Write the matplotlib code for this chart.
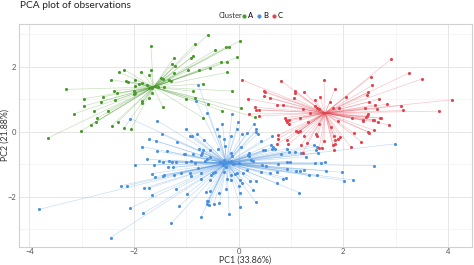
import matplotlib
matplotlib.use("Agg")
import matplotlib.pyplot as plt
from matplotlib.lines import Line2D
from matplotlib.ticker import MultipleLocator
import numpy as np

plt.rcParams['font.family'] = ['Lato', 'DejaVu Sans']

clusters = ["A", "B", "C"]
colors = {"A": "#4A9A2C", "B": "#4A92E0", "C": "#E2434F"}
title = "PCA plot of observations"
xlabel = "PC1 (33.86%)"
ylabel = "PC2 (21.88%)"

# cluster centres
centers = {"A": (-1.63, 1.37), "B": (-0.23, -0.97), "C": (1.65, 0.57)}

a_pc1 = [-3.65, -3.30, -2.96, -2.96, -3.14, -3.02, -2.83, -2.73, -2.77, -2.70, -2.63, -2.59, -2.50, -2.43,
         -2.30, -2.19, -2.37, -2.39, -2.33, -2.44, -2.29, -2.19, -2.16, -2.11, -2.06, -0.59, -0.83, -1.68,
         -0.25, -0.18, 0.02, -0.46, -0.87, -0.91, -1.24, -1.28, -1.22, -0.34, -0.22, -0.03, -1.86, -1.68,
         -1.71, -1.24, -0.96, -0.76, -0.54, -0.23, -1.98, -1.48, -1.44, -1.33, -1.30, -1.99, -1.90, -1.85,
         -1.76, -0.68, -2.00, -1.99, -2.01, -1.65, -1.43, -0.88, -0.13, -1.71, -1.01, -0.84, -1.85, -1.84,
         -1.45, -0.59, -0.31, 0.04, -0.68, -1.72, -1.60, -1.55, -1.65, 0.31]
a_pc2 = [-0.20, 1.30, 1.01, 0.79, 0.55, 0.01, 0.21, 0.30, 0.63, 0.42, 0.92, 1.07, 0.64, 0.18,
         0.31, 0.12, 0.97, 1.26, 1.18, 1.60, 1.83, 1.91, 1.56, 1.53, 0.08, 2.98, 2.70, 2.64,
         2.60, 2.61, 2.79, 2.50, 2.33, 2.27, 2.27, 2.08, 2.02, 2.15, 2.14, 2.28, 1.83, 1.89,
         1.75, 1.81, 1.88, 1.88, 1.97, 1.82, 1.58, 1.66, 1.63, 1.59, 1.56, 1.41, 1.46, 1.48,
         1.43, 1.47, 1.25, 1.20, 1.17, 1.20, 1.37, 1.24, 1.25, 1.04, 1.01, 1.04, 0.94, 0.87,
         0.75, 0.86, 0.63, 0.72, 0.42, 1.35, 1.40, 1.38, 1.33, 0.44]

b_pc1 = [-3.81, -2.45, -2.25, -2.13, -2.07, -1.98, -1.85, -1.76, -1.71, -1.59, -1.56, -1.47, -1.38, -1.62,
         -1.52, -1.44, -1.65, -1.60, -1.81, -1.72, -1.66, -1.82, -1.29, -1.14, -1.20, -0.99, -1.43, -1.24,
         -1.10, -1.35, -1.25, -1.19, -1.01, -0.91, -1.33, -1.17, -1.04, -0.87, -0.94, -0.75, -0.72, -0.70,
         -0.68, -0.66, -0.55, -0.93, -0.72, -0.72, -0.54, -0.63, -0.54, -0.58, -0.60, -0.56, -0.48, -0.37,
         -0.72, -0.18, -0.24, -0.23, -0.49, -0.36, -0.29, -0.39, -0.26, -0.15, -0.13, -0.15, -0.38, -0.28,
         -1.56, -1.01, -0.90, -0.60, -0.41, -0.13, -0.01, -0.03, 0.04, 0.20, -1.03, -1.28, -1.44, -0.92,
         -0.53, -0.45, -0.84, -0.77, -0.64, -0.60, -0.55, -0.28, -0.15, -0.14, -0.07, -0.03, 0.02, 0.01,
         0.02, 0.03, -0.61, -0.37, 0.29, 0.15, 0.06, 0.33, 0.36, 0.34, 0.64, 0.61, 0.66, 0.64,
         0.70, 0.46, 0.50, 0.43, 0.81, 0.92, 0.96, 1.08, 1.20, 1.44, 1.49, 1.47, 1.52, 2.98,
         0.23, 0.27, 0.45, 0.52, 0.75, 0.92, 0.99, 1.29, 1.46, 1.57, 1.65, 2.59, 0.43, 0.60,
         0.73, 0.92, 1.10, 1.17, 1.25, 1.35, 1.49, 1.66, 1.98, 2.02, 2.19, 0.22, 0.33, 0.73,
         0.85, 0.90, 1.16, 0.28, 0.33, 0.09, 0.15, 0.06, 0.17, 0.19, -0.20, -0.10, -0.30, -0.15,
         0.00, -0.25, -0.77, -0.82, -2.07, -0.79, -0.31]
b_pc2 = [-2.39, -3.26, -1.66, -1.66, -2.35, -1.02, -0.46, -0.85, -0.23, -0.28, -0.60, -0.08, -0.60, -1.03,
         -0.91, -0.93, -1.29, -1.39, -1.74, -1.74, -1.94, -2.51, -2.82, -2.29, -1.77, -1.92, -1.33, -1.32,
         -1.26, -1.10, -1.10, -0.95, -0.95, -0.91, -0.89, -0.32, -0.70, -0.70, -0.13, -0.52, -0.72, -0.65,
         -0.58, -0.25, -0.58, -1.28, -1.28, -1.45, -1.49, -1.86, -1.82, -2.13, -2.23, -2.26, -2.23, -2.20,
         -2.63, -2.55, -1.76, -1.47, -1.28, -0.92, -0.87, -0.53, -0.43, -0.65, -0.74, -0.15, -0.15, -0.23,
         0.34, 0.07, -0.13, 0.58, 0.07, 0.54, 0.31, 0.07, -0.46, -0.65, -0.69, -0.92, -1.36, -1.36,
         -1.34, -1.23, -0.97, -1.13, -0.91, -0.84, -0.77, -1.23, -1.49, -1.33, -1.30, -1.26, -1.49, -1.67,
         -1.88, -2.31, -2.15, -1.90, 0.24, -0.05, -0.07, 0.00, -0.07, 0.07, -0.15, -0.40, -0.48, -0.54,
         -0.54, -0.58, -0.58, -0.29, -0.69, -0.52, -0.62, -0.62, -0.67, -0.41, -0.46, -0.56, -0.66, -0.38,
         -0.87, -0.89, -1.02, -1.06, -1.00, -0.92, -0.94, -0.77, -0.97, -0.97, -0.94, -1.05, -1.25, -1.28,
         -1.24, -1.15, -1.21, -1.21, -1.18, -1.35, -1.35, -1.20, -1.25, -1.51, -1.49, -1.51, -1.51, -1.59,
         -1.46, -1.42, -1.88, -1.80, -2.18, -1.28, -1.18, -1.59, -0.72, -0.76, -0.95, -1.00, -1.02, -0.90,
         -0.98, -1.10, 1.43, 0.94, 0.40, -0.07, 0.24]

c_pc1 = [2.92, 3.25, 3.50, 2.52, 2.55, 2.47, 2.45, 2.68, 2.50, 2.83, 2.60, 3.10, 4.08, 2.65,
         2.42, 3.15, 3.82, 2.48, 2.46, 2.71, 2.58, 2.66, 2.38, 2.87, 2.59, 2.48, 2.50, 2.20,
         2.34, 2.14, 2.05, 0.06, 0.80, 1.63, 1.84, 0.48, 0.50, 1.08, 1.08, 1.25, 0.49, 0.60,
         0.17, 1.06, 1.45, 1.56, 1.74, 0.73, 0.84, 1.45, 1.50, 1.53, 0.32, 0.34, 0.39, 1.22,
         1.36, 1.80, 1.92, 0.19, 0.39, 0.89, 0.90, 0.93, 0.96, 0.96, 1.17, 1.33, 1.54, 1.76,
         1.89, 2.17, 2.37, 2.44, 2.57, 0.76, 0.75, 1.10, 1.14, 1.18, 1.48, 1.50, 1.82, 1.94,
         0.93, 0.95, 1.24, 1.30, 1.85, 1.90, 1.84, 1.63, 1.80, 1.19, 1.22, 1.54, 1.59, 1.83,
         0.74, 2.72]
c_pc2 = [2.24, 1.80, 1.62, 1.68, 1.42, 1.21, 1.13, 1.00, 0.92, 0.84, 0.82, 0.80, 0.98, 0.70,
         0.72, 0.65, 0.63, 0.54, 0.48, 0.41, 0.36, 0.30, 0.34, 0.21, 0.04, -0.01, -0.04, -0.05,
         -0.31, -0.47, 1.06, 1.59, 1.57, 1.59, 1.30, 1.25, 1.21, 1.25, 1.19, 1.21, 1.09, 1.03,
         1.01, 1.02, 0.97, 1.05, 0.90, 0.82, 0.83, 0.79, 0.74, 0.69, 0.75, 0.67, 0.67, 0.69,
         0.57, 0.72, 0.72, 0.54, 0.48, 0.43, 0.36, 0.31, 0.36, 0.24, 0.43, 0.28, 0.24, 0.14,
         0.33, 0.41, 0.36, 0.44, 0.36, -0.11, -0.22, 0.03, -0.01, 0.03, -0.07, -0.15, -0.13, -0.16,
         -0.26, -0.39, -0.13, -0.34, -0.26, -0.23, -0.39, -0.30, -0.42, -0.41, -0.65, -0.51, -0.49, -0.56,
         -0.38, 0.41]

data = {"A": (a_pc1, a_pc2), "B": (b_pc1, b_pc2), "C": (c_pc1, c_pc2)}

W, H = 474, 265
fig = plt.figure(figsize=(W / 100, H / 100), dpi=100)
ax = fig.add_axes([19 / W, 1 - 247 / H, (472 - 19) / W, (247 - 24) / H])

for k in clusters:
    xs, ys = data[k]
    cx, cy = centers[k]
    for x, y in zip(xs, ys):
        ax.plot([cx, x], [cy, y], color=colors[k], lw=0.5, alpha=0.3, zorder=2)
for k in clusters:
    xs, ys = data[k]
    ax.scatter(xs, ys, s=5, color=colors[k], zorder=3, linewidths=0)

ax.set_xlim(-4.2, 4.46)
ax.set_ylim(-3.55, 3.31)
ax.xaxis.set_major_locator(MultipleLocator(2))
ax.xaxis.set_minor_locator(MultipleLocator(1))
ax.yaxis.set_major_locator(MultipleLocator(2))
ax.yaxis.set_minor_locator(MultipleLocator(1))
ax.grid(which='major', color='#e6e6e6', lw=0.7, zorder=0)
ax.grid(which='minor', color='#f2f2f2', lw=0.5, zorder=0)
ax.set_axisbelow(True)
for s in ax.spines.values():
    s.set_color('#d0d0d0')
    s.set_linewidth(0.8)
ax.tick_params(which='both', length=0, labelsize=5.5, labelcolor='#555555')
ax.tick_params(axis='x', pad=1)
ax.tick_params(axis='y', pad=2)

fig.text(245 / W, 1 - 260.5 / H, xlabel, fontsize=6.3, ha='center', va='center', color='#333333')
fig.text(5 / W, 1 - 135 / H, ylabel, fontsize=6.3, ha='center', va='center', rotation=90, color='#333333')

fig.text(20 / W, 1 - 6 / H, title, fontsize=7.3, ha='left', va='center', color='#222222')
fig.text(242 / W, 1 - 16 / H, "Cluster", fontsize=5.5, ha='right', va='center', color='#333333')
handles = [Line2D([], [], linestyle='none', marker='o', markersize=2, color=colors[k]) for k in clusters]
fig.legend(handles, clusters, loc='center left', bbox_to_anchor=(242 / W, 1 - 16 / H), ncol=3,
           frameon=False, fontsize=5.5, handlelength=0.6, handletextpad=0.2, columnspacing=0.5,
           borderpad=0, borderaxespad=0)

fig.savefig("out.png", dpi=100)
